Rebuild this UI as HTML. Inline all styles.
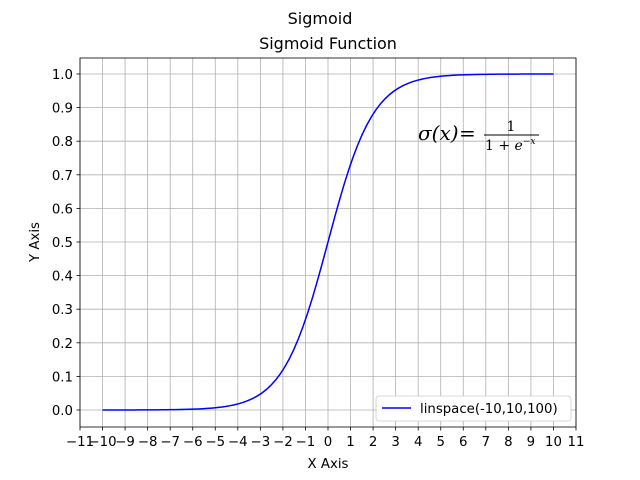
<!DOCTYPE html>
<html><head><meta charset="utf-8"><style>
body{margin:0;background:#fff}
svg{display:block;font-family:"DejaVu Sans","Liberation Sans",sans-serif}
</style></head><body>
<svg id="s" width="640" height="480" viewBox="0 0 640 480" xmlns="http://www.w3.org/2000/svg">
<rect width="640" height="480" fill="#fff"/>
<g id="grid" stroke="#b0b0b0" stroke-width="0.8"></g>
<g id="ticks" font-size="13.3" fill="#000"></g>
<path id="curve" fill="none" stroke="#0000ff" stroke-width="1.5"/>
<rect x="80" y="58" width="496" height="369" fill="none" stroke="#000" stroke-width="0.8"/>
<text x="320" y="24" font-size="16" text-anchor="middle">Sigmoid</text>
<text x="328" y="49" font-size="16" text-anchor="middle">Sigmoid Function</text>
<text x="328" y="468" font-size="13.3" text-anchor="middle">X Axis</text>
<text transform="translate(39,242) rotate(-90)" font-size="13.3" text-anchor="middle">Y Axis</text>
<g font-family="'DejaVu Serif','Liberation Serif',serif">
<text x="418" y="140" font-size="20" font-style="italic">σ(x)</text>
<text x="459" y="140" font-size="20">=</text>
<text x="511" y="131" font-size="14" text-anchor="middle">1</text>
<line x1="484" y1="135" x2="539" y2="135" stroke="#000" stroke-width="0.9"/>
<text x="485" y="150" font-size="14">1 + <tspan font-style="italic">e</tspan><tspan font-size="9" dy="-6">−<tspan font-style="italic">x</tspan></tspan></text>
</g>
<rect x="376" y="396" width="195" height="25" rx="3" fill="#fff" stroke="#cccccc" stroke-width="0.8"/>
<line x1="382" y1="408" x2="411" y2="408" stroke="#0000ff" stroke-width="1.5"/>
<text x="420" y="413" font-size="13.3">linspace(-10,10,100)</text>
</svg>
<script>
var NS="http://www.w3.org/2000/svg";
function X(v){return 328+v*22.545}
function Y(v){return 410-v*336}
var g=document.getElementById('grid'),t=document.getElementById('ticks');
function el(p,tag,a,txt){var e=document.createElementNS(NS,tag);for(var k in a)e.setAttribute(k,a[k]);if(txt!=null)e.textContent=txt;p.appendChild(e);return e}
for(var i=-11;i<=11;i++){var x=X(i);
el(g,'line',{x1:x,y1:58,x2:x,y2:427});
el(t,'line',{x1:x,y1:427,x2:x,y2:430.5,stroke:'#000','stroke-width':0.8});
el(t,'text',{x:x,y:446,'text-anchor':'middle'},(i<0?'−':'')+Math.abs(i));}
for(var j=0;j<=10;j++){var v=j/10,y=Y(v);
el(g,'line',{x1:80,y1:y,x2:576,y2:y});
el(t,'line',{x1:76.5,y1:y,x2:80,y2:y,stroke:'#000','stroke-width':0.8});
el(t,'text',{x:73,y:y+5,'text-anchor':'end'},v.toFixed(1));}
var d='';for(var k=0;k<100;k++){var xv=-10+20*k/99,yv=1/(1+Math.exp(-xv));d+=(k?'L':'M')+X(xv).toFixed(2)+' '+Y(yv).toFixed(2);}
document.getElementById('curve').setAttribute('d',d);
</script>
</body></html>
